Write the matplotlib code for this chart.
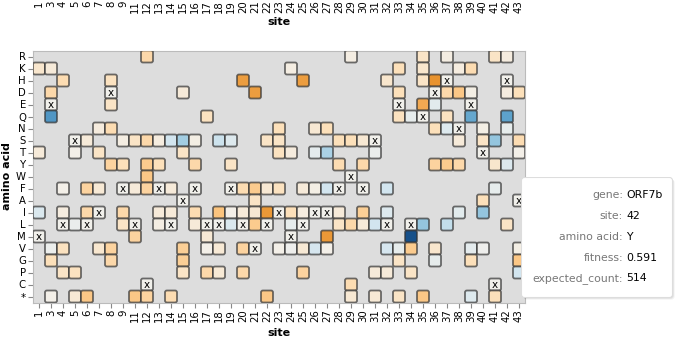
import matplotlib
matplotlib.use('Agg')
import matplotlib.pyplot as plt
from matplotlib.colors import LinearSegmentedColormap, Normalize
from matplotlib.patches import FancyBboxPatch
from matplotlib.transforms import blended_transform_factory

gene = 'ORF7b'
sites = [1, 3, 4, 5, 6, 7, 8, 9, 11, 12, 13, 14, 15, 16, 17, 18, 19, 20, 21, 22,
         23, 24, 25, 26, 27, 28, 29, 30, 31, 32, 33, 34, 35, 36, 37, 38, 39, 40,
         41, 42, 43]
wildtype = 'MIELSLIDFYLCFLAFLLFLVLIMLIIFWFSLELQDHNETCHA'   # site 1..43
amino_acids = ['R', 'K', 'H', 'D', 'E', 'Q', 'N', 'S', 'T', 'Y', 'W',
               'F', 'A', 'I', 'L', 'M', 'V', 'G', 'P', 'C', '*']

# fitness of each measured mutation, site -> value (wildtype cells are 0)
fit_R = {12: -1.0, 29: -0.15, 35: -0.6, 37: -0.15, 41: -0.6, 42: -0.2}
fit_K = {1: -0.5, 3: -0.3, 24: -0.15, 33: -0.8, 35: -0.5, 38: -0.2, 39: -0.9}
fit_H = {4: -0.9, 8: -0.7, 20: -2.2, 25: -2.2, 32: -0.5, 35: -0.6, 36: -2.4}
fit_D = {3: -1.0, 15: -0.3, 21: -2.2, 33: -0.8, 37: -1.0, 38: -1.4, 39: -0.1,
         42: -0.2, 43: -0.8}
fit_E = {8: -0.6, 35: -2.0, 36: 0.4}
fit_Q = {3: 2.6, 17: -0.7, 33: -0.7, 34: 0.3, 37: -0.7, 39: 2.3, 42: 2.4}
fit_N = {7: -0.25, 8: -0.9, 23: -0.8, 26: -0.4, 27: -0.8, 36: -0.8, 37: 0.5,
         40: -0.1, 42: 0.3}
fit_S = {6: -0.3, 9: -0.15, 11: -0.6, 12: -1.0, 13: -0.2, 14: 0.8, 15: 1.5,
         16: -0.1, 18: 0.9, 19: 0.5, 22: -0.6, 23: -0.6, 28: -0.8, 29: -0.8,
         30: -0.4, 38: -0.3, 40: -0.6, 41: 1.7, 43: -0.9}
fit_T = {1: -0.3, 5: -0.05, 7: -0.6, 15: -0.6, 23: -0.7, 24: -0.25, 26: 0.35,
         27: 1.4, 31: 0.2, 43: -0.05}
fit_Y = {8: -1.1, 9: -0.8, 12: -1.3, 13: -0.8, 16: -1.0, 19: -0.6, 28: -0.9,
         30: -1.0, 36: -1.1, 37: -1.3, 38: -1.0, 41: -0.5, 42: 0.591}
fit_W = {12: -1.4}
fit_F = {4: -0.05, 6: -1.1, 7: -0.35, 11: -0.3, 12: -1.1, 14: -0.3, 20: -0.9,
         21: -1.3, 22: -0.4, 23: -0.7, 25: -0.3, 26: -0.1, 27: 0.8, 32: 0.8,
         41: 0.3}
fit_A = {21: -0.6, 40: -0.8}
fit_I = {1: 0.6, 4: -0.2, 6: -1.0, 9: -1.0, 13: -0.3, 14: -0.3, 16: -0.9,
         18: -1.5, 19: -0.05, 20: -0.3, 21: -0.4, 22: -2.3, 24: -0.8, 25: -0.2,
         28: -0.3, 30: -1.2, 32: 0.5, 38: 0.4, 40: 1.7}
fit_L = {5: 0.2, 9: -0.6, 13: -0.15, 16: -0.3, 19: 0.6, 21: -1.3, 24: 0.3,
         28: -0.6, 29: -1.0, 30: -0.3, 31: 0.8, 35: 1.7, 37: 1.0, 42: -0.6}
fit_M = {11: -1.1, 17: -0.35, 27: -2.3, 34: 3.9}
fit_V = {3: 0.15, 4: -0.7, 7: -0.45, 8: -1.1, 15: -1.2, 17: -0.05, 18: -0.35,
         20: -1.1, 23: -0.05, 24: 0.1, 25: -0.35, 26: 0.7, 27: -0.05, 32: 0.7,
         33: 0.3, 34: -1.3, 36: -0.5, 39: 0.35, 40: 0.1, 43: -0.1}
fit_G = {3: -0.8, 8: -1.0, 15: -1.2, 33: -0.6, 36: 0.3, 39: -0.8, 43: -1.4}
fit_P = {4: -0.6, 5: -0.7, 15: -0.6, 17: -1.0, 18: -0.35, 20: -1.0, 25: -1.1,
         31: -0.3, 32: -0.3, 34: -0.6, 43: 0.8}
fit_C = {29: -0.9}
fit_stop = {3: -0.05, 5: -0.35, 6: -1.4, 11: -1.4, 12: -1.1, 14: -0.9,
            22: -1.4, 29: -0.4, 31: -0.35, 33: -0.6, 35: -1.4, 39: 0.5, 41: -0.8}

# hovered cell shown in the tooltip
tip_site = 42
tip_aa = 'Y'
tip_expected_count = 514

fitness = {'R': fit_R, 'K': fit_K, 'H': fit_H, 'D': fit_D, 'E': fit_E,
           'Q': fit_Q, 'N': fit_N, 'S': fit_S, 'T': fit_T, 'Y': fit_Y,
           'W': fit_W, 'F': fit_F, 'A': fit_A, 'I': fit_I, 'L': fit_L,
           'M': fit_M, 'V': fit_V, 'G': fit_G, 'P': fit_P, 'C': fit_C,
           '*': fit_stop}

# vega "blueorange", flipped so that negative fitness is orange
cmap = LinearSegmentedColormap.from_list('orangeblue', [
    '#994a07', '#c5690d', '#e8932f', '#fbbf74', '#fce0ba', '#f2f0eb',
    '#d2e5ef', '#9dcae1', '#5da2cb', '#2f78b3', '#134b85'])
norm = Normalize(-4, 4)

W, H = 676, 340
fig = plt.figure(figsize=(W / 100, H / 100), dpi=100)
ax = fig.add_axes([33 / W, 1 - 302.5 / H, 492 / W, 252 / H])
ax.set_facecolor('#dddddd')
ax.set_xlim(-0.5, len(sites) - 0.5)
ax.set_ylim(len(amino_acids) - 0.5, -0.5)
for s in ax.spines.values():
    s.set_color('#bbbbbb')
    s.set_linewidth(0.8)

def cell(i, r, value):
    box = FancyBboxPatch((i - 0.5, r - 0.5), 1, 1,
                         boxstyle='round,pad=0,rounding_size=0.16',
                         facecolor=cmap(norm(value)),
                         edgecolor=(0.2, 0.2, 0.2, 0.7), linewidth=1.3, zorder=3)
    ax.add_patch(box)

for r, aa in enumerate(amino_acids):
    for i, site in enumerate(sites):
        if wildtype[site - 1] == aa:
            cell(i, r, 0.0)
            ax.text(i, r + 0.05, 'x', ha='center', va='center', fontsize=7.5,
                    color='black', zorder=4)
        elif site in fitness[aa]:
            cell(i, r, fitness[aa][site])

tick_font = 7.3
ax.set_yticks(range(len(amino_acids)))
ax.set_yticklabels(amino_acids, fontsize=tick_font)
ax.set_xticks(range(len(sites)))
ax.set_xticklabels([str(s) for s in sites], rotation=90, fontsize=tick_font)
ax.tick_params(length=3.6, width=0.8, color='#888888', pad=1.5)
ax.set_xlabel('site', fontsize=8, fontweight='bold', labelpad=4)
ax.set_ylabel('amino acid', fontsize=8, fontweight='bold', labelpad=3)

# site labels of the panel above, cut off at the top edge
top = blended_transform_factory(ax.transData, fig.transFigure)
for i, site in enumerate(sites):
    ax.text(i, 1 - 0.5 / H, str(site), transform=top, rotation=90,
            ha='center', va='top', fontsize=tick_font, clip_on=False)
fig.text((33 + 246) / W, 1 - 22 / H, 'site', fontsize=8, fontweight='bold',
         ha='center', va='center')

# tooltip
tx0, ty0, tw, th = 521, 177, 151, 120
tip = fig.add_axes([tx0 / W, 1 - (ty0 + th + 3) / H, (tw + 3) / W, (th + 3) / H])
tip.set_xlim(0, tw + 3)
tip.set_ylim(th + 3, 0)
tip.set_axis_off()
for off, a in [(2.5, 0.06), (1.5, 0.08)]:
    tip.add_patch(FancyBboxPatch((off, off), tw, th,
                                 boxstyle='round,pad=0,rounding_size=3',
                                 facecolor=(0, 0, 0, a), edgecolor='none'))
tip.add_patch(FancyBboxPatch((0.5, 0.5), tw, th,
                             boxstyle='round,pad=0,rounding_size=3',
                             facecolor='white', edgecolor='#dddddd', linewidth=0.8))
rows = [('gene:', gene), ('site:', str(tip_site)), ('amino acid:', tip_aa),
        ('fitness:', f'{fitness[tip_aa][tip_site]:.3f}'),
        ('expected_count:', str(tip_expected_count))]
for k, (lab, val) in enumerate(rows):
    y = 18.5 + k * 20.7
    tip.text(102, y, lab, ha='right', va='center', fontsize=7.8, color='#777777')
    tip.text(105, y, val, ha='left', va='center', fontsize=7.8, color='black')

fig.savefig('out.png', dpi=100)
